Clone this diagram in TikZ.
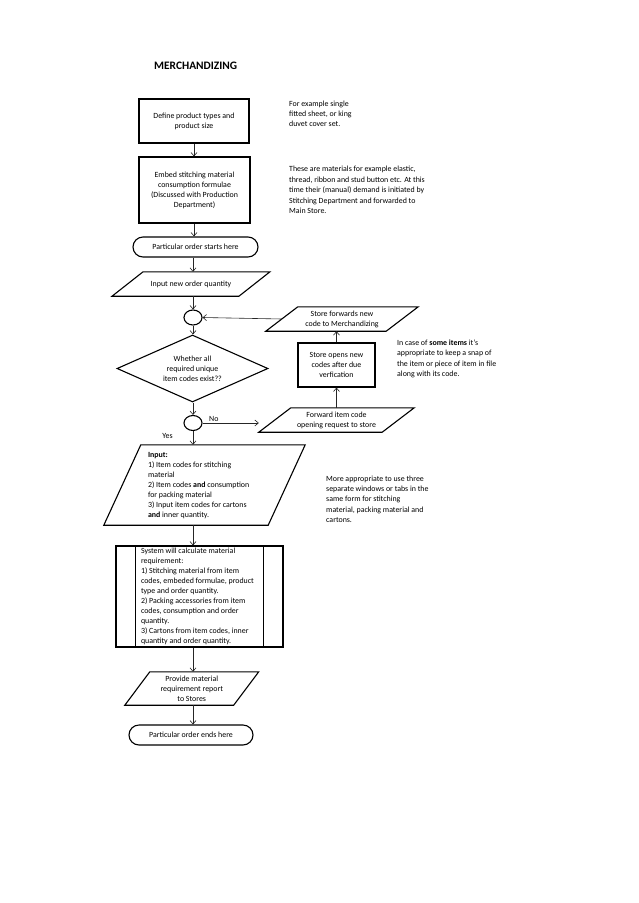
\documentclass[tikz,border=0pt]{standalone}
\usepackage{fontspec}
\setmainfont{Carlito}
\usetikzlibrary{shapes.geometric,shapes.misc,arrows.meta,calc}
\newcommand\paranode[8]{%
  \node[paratext, minimum width=#4, minimum height=#5, #7] (#1) at (#2,#3) {#8};
  \draw[shapeline] ($(#1.north west)+(#6/2,0)$) coordinate (#1-tl)
    -- ($(#1.north east)+(#6/2,0)$) coordinate (#1-tr)
    -- ($(#1.south east)-(#6/2,0)$) coordinate (#1-br)
    -- ($(#1.south west)-(#6/2,0)$) coordinate (#1-bl) -- cycle;}
\newcommand\leftblock[2]{\makebox[#1][l]{\begin{tabular}{@{}l@{}}#2\end{tabular}}}
\begin{document}
\begin{tikzpicture}[x=1pt,y=-1pt,
  every node/.style={font=\fontsize{7.9}{10}\selectfont, inner sep=0pt},
  shapeline/.style={draw=black, line width=1.1pt},
  box/.style={shapeline, align=center},
  paratext/.style={align=center},
  term/.style={rounded rectangle, shapeline, align=center},
  joint/.style={ellipse, shapeline, minimum width=18, minimum height=15},
  note/.style={anchor=north west, align=left, font=\fontsize{7.9}{10.4}\selectfont},
  arr/.style={-{Straight Barb[length=3.5pt,width=6pt]}, line width=0.6pt, draw=black!85},
  lbl/.style={font=\fontsize{7.9}{10}\selectfont}
]
\useasboundingbox[fill=white] (0,0) rectangle (638,903);

\node[anchor=west, font=\fontsize{11.4}{14}\selectfont\bfseries] (title) at (154,66) {MERCHANDIZING};

\node[box, minimum width=110, minimum height=44] (b1) at (194,121) {Define product types and\\product size};
\node[box, minimum width=111, minimum height=66] (b2) at (194.5,190) {Embed stitching material\\consumption formulae\\(Discussed with Production\\Department)};
\node[term, minimum width=125, minimum height=20] (start) at (195.5,247) {Particular order starts here};
\paranode{inq}{191}{284}{126.5}{24}{31}{}{Input new order quantity}
\node[joint] (c1) at (193,317.5) {};
\node[diamond, shapeline, minimum width=151, minimum height=67, aspect=2.25, align=center] (dec) at (192.5,368.5) {Whether all\\required unique\\item codes exist??};
\node[joint] (c2) at (193,423) {};
\paranode{inp}{204.5}{485}{164}{80}{37}{}{\leftblock{113pt}{\textbf{Input:}\\1) Item codes for stitching\\material\\2) Item codes \textbf{and} consumption\\for packing material\\3) Input item codes for cartons\\\textbf{and} inner quantity.}}
\node[shapeline, minimum width=167, minimum height=101] (calc) at (199.5,596.5) {\leftblock{117pt}{System will calculate material\\requirement:\\1) Stitching material from item\\codes, embeded formulae, product\\type and order quantity.\\2) Packing accessories from item\\codes, consumption and order\\quantity.\\3) Cartons from item codes, inner\\quantity and order quantity.}};
\draw[shapeline] ([xshift=20]calc.north west) -- ([xshift=20]calc.south west);
\draw[shapeline] ([xshift=-20]calc.north east) -- ([xshift=-20]calc.south east);
\paranode{prov}{191.75}{688.5}{108.5}{33}{25}{}{Provide material\\requirement report\\to Stores}
\node[term, minimum width=124, minimum height=20] (end) at (191,735) {Particular order ends here};

\paranode{sfw}{342}{319}{120}{24}{32}{}{Store forwards new\\code to Merchandizing}
\node[box, minimum width=77, minimum height=44] (store) at (336.5,365) {Store opens new\\codes after due\\verfication};
\paranode{fwd}{336.5}{420}{123}{24}{32}{}{Forward item code\\opening request to store}

\node[note] (n1) at (289,100.5) {For example single\\fitted sheet, or king\\duvet cover set.};
\node[note] (n2) at (289,166.3) {These are materials for example elastic,\\thread, ribbon and stud button etc. At this\\time their (manual) demand is initiated by\\Stitching Department and forwarded to\\Main Store.};
\node[note] (n3) at (397,339.5) {In case of \textbf{some items} it's\\appropriate to keep a snap of\\the item or piece of item in file\\along with its code.};
\node[note] (n4) at (326,475.5) {More appropriate to use three\\separate windows or tabs in the\\same form for stitching\\material, packing material and\\cartons.};

\draw[arr] (b1.south) -- (b1.south |- b2.north);
\draw[arr] (b2.south -| b1.south) -- (b1.south |- start.north);
\draw[arr] (start.south -| c1.north) -- (c1.north |- inq.north);
\draw[arr] (inq.south -| c1.north) -- (c1.north);
\draw[arr] (c1.south) -- (c1.south |- dec.north);
\draw[arr] (dec.south -| c2.north) -- (c2.north);
\draw[arr] (c2.south) -- (c2.south |- inp.north) node[lbl, pos=0.5, anchor=east, xshift=-20, yshift=1.5] (yes) {Yes};
\draw[arr] (c2.east) -- (c2.east -| fwd-bl) node[lbl, pos=0.2, anchor=south, yshift=1] (no) {No};
\draw[arr] (fwd.north) -- (fwd.north |- store.south);
\draw[arr] (store.north) -- (store.north |- sfw.south);
\draw[arr] (sfw.west) -- (c1.east);
\draw[arr] (inp.south -| c2.south) -- (c2.south |- calc.north);
\draw[arr] (calc.south -| c2.south) -- (c2.south |- prov.north);
\draw[arr] (prov.south -| c2.south) -- (c2.south |- end.north);
\end{tikzpicture}
\end{document}
